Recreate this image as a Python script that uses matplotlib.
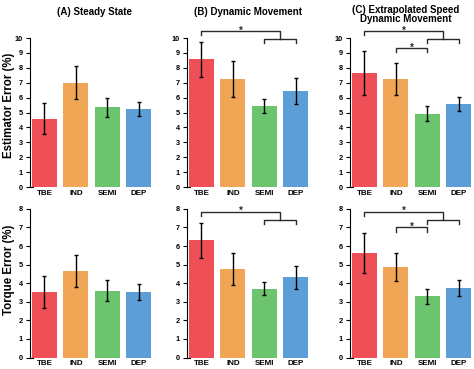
import matplotlib.pyplot as plt
import numpy as np

plt.rcParams['font.family'] = ['Liberation Sans', 'DejaVu Sans']

# -------------------
# data
# -------------------
groups = ['TBE', 'IND', 'SEMI', 'DEP']
colors = ['#ef5058', '#f0a654', '#6cc46e', '#5c9fd8']

est_steady = [4.6, 7.0, 5.35, 5.25]
est_steady_sd = [1.07, 1.1, 0.65, 0.48]
est_dynamic = [8.58, 7.26, 5.46, 6.45]
est_dynamic_sd = [1.18, 1.19, 0.47, 0.87]
est_extrap = [7.66, 7.26, 4.92, 5.55]
est_extrap_sd = [1.45, 1.05, 0.52, 0.47]

trq_steady = [3.53, 4.67, 3.6, 3.53]
trq_steady_sd = [0.87, 0.85, 0.56, 0.43]
trq_dynamic = [6.3, 4.77, 3.71, 4.32]
trq_dynamic_sd = [0.95, 0.86, 0.37, 0.63]
trq_extrap = [5.63, 4.87, 3.29, 3.76]
trq_extrap_sd = [1.07, 0.73, 0.4, 0.43]

titles = ['(A) Steady State', '(B) Dynamic Movement', '(C) Extrapolated Speed\nDynamic Movement']

fig = plt.figure(figsize=(4.74, 3.69), dpi=100)

lefts = [30 / 474, 187 / 474, 350 / 474]
width = 0.26
top_row = [0.493, 0.404]
bot_row = [0.031, 0.403]

top_data = [(est_steady, est_steady_sd), (est_dynamic, est_dynamic_sd), (est_extrap, est_extrap_sd)]
bot_data = [(trq_steady, trq_steady_sd), (trq_dynamic, trq_dynamic_sd), (trq_extrap, trq_extrap_sd)]

lc = '#2b2b2b'


def bar_panel(ax, means, sds, ymax):
    x = np.arange(len(groups))
    ax.bar(x, means, width=0.8, color=colors, edgecolor='none')
    ax.errorbar(x, means, yerr=sds, fmt='none', ecolor='black', elinewidth=1.0,
                capsize=1.6, capthick=1.0)
    ax.set_xlim(-0.46, 3.46)
    ax.set_ylim(0, ymax)
    ax.set_yticks(range(0, ymax + 1))
    ax.set_xticks(x)
    ax.set_xticklabels(groups, fontsize=5.8, fontweight='bold')
    ax.tick_params(axis='y', labelsize=5.3, length=3, width=0.8, pad=2)
    ax.tick_params(axis='x', length=0, pad=2)
    for lbl in ax.get_yticklabels():
        lbl.set_fontweight('bold')
    ax.spines['top'].set_visible(False)
    ax.spines['right'].set_visible(False)
    ax.spines['left'].set_linewidth(0.8)
    ax.spines['bottom'].set_linewidth(0.8)
    ax.spines['bottom'].set_bounds(-0.46, -0.38)


def bracket(ax, x0, x1, h, leg):
    ax.plot([x0, x0, x1, x1], [h - leg, h, h, h - leg], color=lc, lw=1.0, clip_on=False)


def star(ax, x, y):
    ax.text(x, y, '*', ha='center', va='center', fontsize=7, fontweight='bold', color=lc)


axes_top = []
axes_bot = []
for i in range(3):
    ax = fig.add_axes([lefts[i], top_row[0], width, top_row[1]])
    bar_panel(ax, top_data[i][0], top_data[i][1], 10)
    axes_top.append(ax)
    ax = fig.add_axes([lefts[i], bot_row[0], width, bot_row[1]])
    bar_panel(ax, bot_data[i][0], bot_data[i][1], 8)
    axes_bot.append(ax)

# significance brackets, top row
for ax in [axes_top[1], axes_top[2]]:
    ax.plot([0, 0, 2.5, 2.5], [10.2, 10.47, 10.47, 9.93], color=lc, lw=1.0, clip_on=False)
    bracket(ax, 2, 3, 9.93, 0.27)
    star(ax, 1.25, 10.5)
bracket(axes_top[2], 1, 2, 9.33, 0.29)
star(axes_top[2], 1.5, 9.36)

# significance brackets, bottom row
for ax in [axes_bot[1], axes_bot[2]]:
    ax.plot([0, 0, 2.5, 2.5], [7.64, 7.85, 7.85, 7.39], color=lc, lw=1.0, clip_on=False)
    bracket(ax, 2, 3, 7.39, 0.22)
    star(ax, 1.25, 7.88)
bracket(axes_bot[2], 1, 2, 7.0, 0.23)
star(axes_bot[2], 1.5, 7.03)

# panel titles
fig.text(0.2, 1 - 12 / 369, titles[0], ha='center', va='center', fontsize=7, fontweight='bold')
fig.text(0.523, 1 - 12 / 369, titles[1], ha='center', va='center', fontsize=7, fontweight='bold')
fig.text(0.855, 1 - 14.5 / 369, titles[2], ha='center', va='center', fontsize=7, fontweight='bold',
         linespacing=0.9)

fig.text(9 / 474, 1 - 105 / 369, 'Estimator Error (%)', rotation=90, ha='center', va='center',
         fontsize=8.3, fontweight='bold')
fig.text(9 / 474, 1 - 270 / 369, 'Torque Error (%)', rotation=90, ha='center', va='center',
         fontsize=8.3, fontweight='bold')

fig.savefig('out.png', dpi=100)
